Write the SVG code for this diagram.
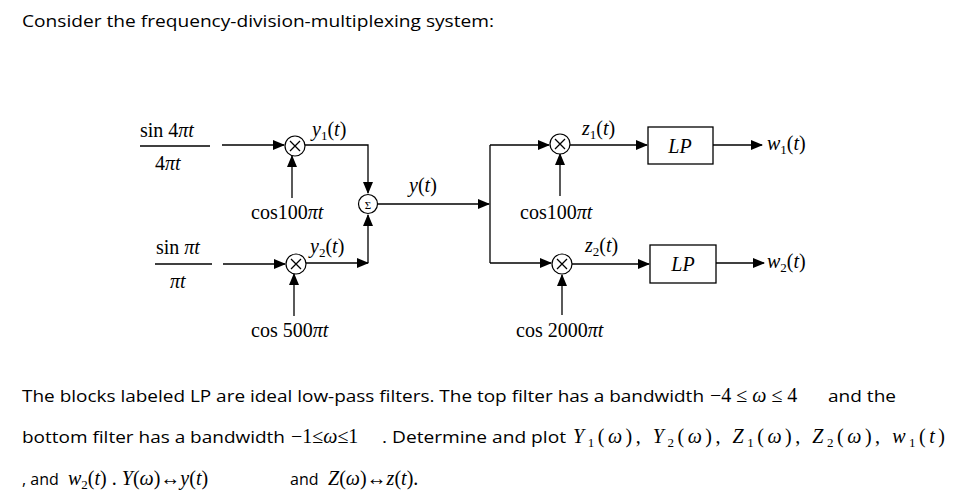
<svg xmlns="http://www.w3.org/2000/svg" width="956" height="497" viewBox="0 0 956 497">
<style>
.p{font-family:"Open Sans","Liberation Sans",sans-serif;font-size:16px;fill:#000}
.m{font-family:"Liberation Serif",serif;font-size:20px;fill:#000}
.i{font-style:italic}
.s{font-size:13px}
.w{stroke:#000;stroke-width:1.3;fill:none}
.c{stroke:#000;stroke-width:1.2;fill:#fff}
</style>
<defs><marker id="a" markerWidth="12" markerHeight="10" refX="11" refY="5" orient="auto" markerUnits="userSpaceOnUse"><path d="M0,0 L12,5 L0,10 z" fill="#000"/></marker></defs>
<text class="p" x="22" y="27" textLength="472" lengthAdjust="spacingAndGlyphs">Consider the frequency-division-multiplexing system:</text>
<g id="connectors">
<path class="w" d="M222,145 H284" marker-end="url(#a)"/>
<path class="w" d="M292,198 V156" marker-end="url(#a)"/>
<path class="w" d="M305,145 H368 V193" marker-end="url(#a)"/>
<path class="w" d="M223,264 H285" marker-end="url(#a)"/>
<path class="w" d="M294,316 V274" marker-end="url(#a)"/>
<path class="w" d="M306,263 H368" marker-end="url(#a)"/>
<path class="w" d="M368,263 V215" marker-end="url(#a)"/>
<path class="w" d="M378,204 H489" marker-end="url(#a)"/>
<path class="w" d="M490,145 V263"/>
<path class="w" d="M490,145 H549" marker-end="url(#a)"/>
<path class="w" d="M490,263 H551" marker-end="url(#a)"/>
<path class="w" d="M560,196 V154" marker-end="url(#a)"/>
<path class="w" d="M562,315 V275" marker-end="url(#a)"/>
<path class="w" d="M570,145 H647" marker-end="url(#a)"/>
<path class="w" d="M572,264 H649" marker-end="url(#a)"/>
<path class="w" d="M713,145 H762" marker-end="url(#a)"/>
<path class="w" d="M716,263 H764" marker-end="url(#a)"/>
</g>
<g id="in1"><text class="m" x="140" y="137">sin 4<tspan class="i">πt</tspan></text><path class="w" d="M140,146 H210"/><text class="m" x="155" y="170">4<tspan class="i">πt</tspan></text></g>
<g id="in2"><text class="m" x="156" y="254">sin <tspan class="i">πt</tspan></text><path class="w" d="M155,264 H212"/><text class="m i" x="170" y="288">πt</text></g>
<g id="mul1"><circle class="c" cx="295" cy="146" r="10"/><path class="w" d="M290,141 l10,10 M300,141 l-10,10"/></g>
<g id="mul2"><circle class="c" cx="296" cy="264" r="10"/><path class="w" d="M291,259 l10,10 M301,259 l-10,10"/></g>
<g id="sum"><circle class="c" cx="368" cy="204" r="9.5"/><text x="368" y="208.5" text-anchor="middle" font-family="Liberation Serif,serif" font-size="11">Σ</text></g>
<g id="mul3"><circle class="c" cx="560" cy="144" r="10"/><path class="w" d="M555,139 l10,10 M565,139 l-10,10"/></g>
<g id="mul4"><circle class="c" cx="562" cy="264" r="10"/><path class="w" d="M557,259 l10,10 M567,259 l-10,10"/></g>
<g id="lp1"><rect x="648" y="127" width="65" height="37" class="w"/><text class="m i" x="680" y="153" text-anchor="middle">LP</text></g>
<g id="lp2"><rect x="650" y="245" width="66" height="38" class="w"/><text class="m i" x="683" y="271" text-anchor="middle">LP</text></g>
<g id="labels">
<text class="m" x="312" y="136"><tspan class="i">y</tspan><tspan class="s" dy="4">1</tspan><tspan dy="-4">(</tspan><tspan class="i">t</tspan>)</text>
<text class="m" x="310" y="253"><tspan class="i">y</tspan><tspan class="s" dy="4">2</tspan><tspan dy="-4">(</tspan><tspan class="i">t</tspan>)</text>
<text class="m" x="409" y="192"><tspan class="i">y</tspan>(<tspan class="i">t</tspan>)</text>
<text class="m" x="251" y="219">cos100<tspan class="i">πt</tspan></text>
<text class="m" x="251" y="337">cos 500<tspan class="i">πt</tspan></text>
<text class="m" x="520" y="219">cos100<tspan class="i">πt</tspan></text>
<text class="m" x="516" y="337">cos 2000<tspan class="i">πt</tspan></text>
<text class="m" x="582" y="135"><tspan class="i">z</tspan><tspan class="s" dy="4">1</tspan><tspan dy="-4">(</tspan><tspan class="i">t</tspan>)</text>
<text class="m" x="585" y="252"><tspan class="i">z</tspan><tspan class="s" dy="4">2</tspan><tspan dy="-4">(</tspan><tspan class="i">t</tspan>)</text>
<text class="m" x="767" y="150"><tspan class="i">w</tspan><tspan class="s" dy="4">1</tspan><tspan dy="-4">(</tspan><tspan class="i">t</tspan>)</text>
<text class="m" x="767" y="268"><tspan class="i">w</tspan><tspan class="s" dy="4">2</tspan><tspan dy="-4">(</tspan><tspan class="i">t</tspan>)</text>
</g>
<text class="p" x="22" y="402" textLength="682" lengthAdjust="spacingAndGlyphs">The blocks labeled LP are ideal low-pass filters. The top filter has a bandwidth</text>
<text class="m" x="710" y="402">−4 ≤ <tspan class="i">ω</tspan> ≤ 4</text>
<text class="p" x="828" y="402" textLength="68" lengthAdjust="spacingAndGlyphs">and the</text>
<text class="p" x="22" y="443" textLength="263" lengthAdjust="spacingAndGlyphs">bottom filter has a bandwidth</text>
<text class="m" x="291" y="443">−1≤<tspan class="i">ω</tspan>≤1</text>
<text class="p" x="382" y="443" textLength="184" lengthAdjust="spacingAndGlyphs">. Determine and plot</text>
<text class="m" x="573" y="443" textLength="372" lengthAdjust="spacing"><tspan class="i">Y</tspan><tspan class="s" dy="4">1</tspan><tspan dy="-4">(</tspan><tspan class="i">ω</tspan>), <tspan class="i">Y</tspan><tspan class="s" dy="4">2</tspan><tspan dy="-4">(</tspan><tspan class="i">ω</tspan>), <tspan class="i">Z</tspan><tspan class="s" dy="4">1</tspan><tspan dy="-4">(</tspan><tspan class="i">ω</tspan>), <tspan class="i">Z</tspan><tspan class="s" dy="4">2</tspan><tspan dy="-4">(</tspan><tspan class="i">ω</tspan>), <tspan class="i">w</tspan><tspan class="s" dy="4">1</tspan><tspan dy="-4">(</tspan><tspan class="i">t</tspan>)</text>
<text class="p" x="22" y="485">, and</text>
<text class="m" x="68" y="485"><tspan class="i">w</tspan><tspan class="s" dy="4">2</tspan><tspan dy="-4">(</tspan><tspan class="i">t</tspan>) . <tspan class="i">Y</tspan>(<tspan class="i">ω</tspan>)↔<tspan class="i">y</tspan>(<tspan class="i">t</tspan>)</text>
<text class="p" x="290" y="485">and</text>
<text class="m" x="328" y="485"><tspan class="i">Z</tspan>(<tspan class="i">ω</tspan>)↔<tspan class="i">z</tspan>(<tspan class="i">t</tspan>).</text>
</svg>
